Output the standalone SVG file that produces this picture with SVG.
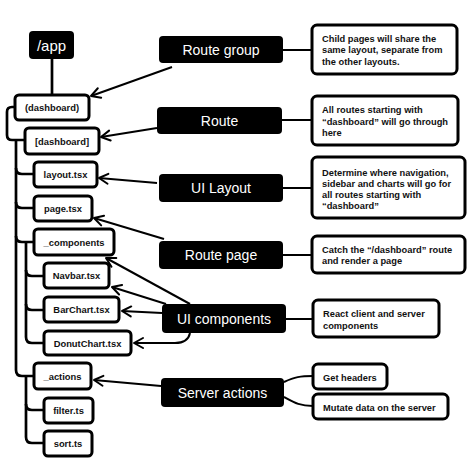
<svg xmlns="http://www.w3.org/2000/svg" width="474" height="476" viewBox="0 0 474 476">
<style>
.bg{fill:#fff}
.tnode rect{fill:#fff;stroke:#000;stroke-width:3}
.tnode text{font-family:"Liberation Sans",Arial,sans-serif;font-weight:bold;font-size:9.4px;fill:#111;text-anchor:middle}
.lbl rect{fill:#000}
.lbl text{font-family:"Liberation Sans",Arial,sans-serif;font-size:14px;fill:#fff;text-anchor:middle}
.desc rect{fill:#fff;stroke:#000;stroke-width:3}
.desc text{font-family:"Liberation Sans",Arial,sans-serif;font-weight:bold;font-size:9.3px;fill:#111}
.tree path{fill:none;stroke:#000;stroke-width:2.7}
.link{fill:none;stroke:#000;stroke-width:2}
.arr{fill:none;stroke:#000;stroke-width:2;marker-end:url(#chev)}
</style>
<defs>
<marker id="chev" viewBox="-2 -2 14 14" refX="9" refY="5" markerWidth="14" markerHeight="14" markerUnits="userSpaceOnUse" orient="auto">
<path d="M0,0 L9,5 L0,10" fill="none" stroke="#000" stroke-width="2" stroke-linecap="round" stroke-linejoin="round"/>
</marker>
</defs>
<rect class="bg" x="0" y="0" width="474" height="476"/>

<g id="connectors">
<g class="tree">
<path d="M52,59 V95"/>
<path d="M15,107 H12 Q7,107 7,112 V135 Q7,140 12,140 H25"/>
<path d="M16,140 V370 Q16,376 22,376 H34"/>
<path d="M16,168 Q16,174 22,174 H34"/>
<path d="M16,202 Q16,208 22,208 H34"/>
<path d="M16,236 Q16,242 22,242 H34"/>
<path d="M26,242 V337 Q26,343 32,343 H44"/>
<path d="M26,270 Q26,276 32,276 H44"/>
<path d="M26,304 Q26,310 32,310 H44"/>
<path d="M26,376 V437 Q26,443 32,443 H44"/>
<path d="M26,404 Q26,410 32,410 H44"/>
</g>
<path class="link" d="M283,50 H312"/>
<path class="link" d="M282,120 H312"/>
<path class="link" d="M283,188 H312"/>
<path class="link" d="M283,255 H312"/>
<path class="link" d="M286,319 H313"/>
<path class="link" d="M284,382 C295,377 300,376 313,376"/>
<path class="link" d="M284,397 C295,403 300,406 313,406"/>
<path class="arr" d="M172,67 L91,96"/>
<path class="arr" d="M157,128 L101,137"/>
<path class="arr" d="M157,183 L99,178"/>
<path class="arr" d="M164,239 L94,218"/>
<path class="arr" d="M190,304 L106,258"/>
<path class="arr" d="M166,304 L112,287"/>
<path class="arr" d="M162,313 L122,311"/>
<path class="arr" d="M190,333 Q188,343 175,343 L134,343"/>
<path class="arr" d="M161,386 L94,380"/>
</g>

<g id="app" class="lbl"><rect x="29" y="31" width="45" height="28" rx="4"/><text x="51.5" y="50.5" style="font-size:15px">/app</text></g>
<g id="n-dashgroup" class="tnode"><rect x="15" y="95" width="74" height="25" rx="4"/><text x="52" y="111">(dashboard)</text></g>
<g id="n-dashroute" class="tnode"><rect x="25" y="128" width="74" height="26" rx="4"/><text x="62" y="144.5">[dashboard]</text></g>
<g id="n-layout" class="tnode"><rect x="34" y="162" width="63" height="25" rx="4"/><text x="65.5" y="178">layout.tsx</text></g>
<g id="n-page" class="tnode"><rect x="34" y="196" width="58" height="25" rx="4"/><text x="63" y="212">page.tsx</text></g>
<g id="n-components" class="tnode"><rect x="34" y="229" width="80" height="26" rx="4"/><text x="74" y="245.5">_components</text></g>
<g id="n-navbar" class="tnode"><rect x="44" y="263" width="65" height="25" rx="4"/><text x="76.5" y="279">Navbar.tsx</text></g>
<g id="n-barchart" class="tnode"><rect x="44" y="297" width="75" height="25" rx="4"/><text x="81.5" y="313">BarChart.tsx</text></g>
<g id="n-donut" class="tnode"><rect x="44" y="331" width="87" height="24" rx="4"/><text x="87.5" y="346.5">DonutChart.tsx</text></g>
<g id="n-actions" class="tnode"><rect x="34" y="363" width="57" height="26" rx="4"/><text x="62.5" y="379.5">_actions</text></g>
<g id="n-filter" class="tnode"><rect x="44" y="398" width="49" height="25" rx="4"/><text x="68.5" y="414">filter.ts</text></g>
<g id="n-sort" class="tnode"><rect x="44" y="431" width="48" height="25" rx="4"/><text x="68" y="447">sort.ts</text></g>

<g id="l-routegroup" class="lbl"><rect x="159" y="36" width="124" height="27" rx="4"/><text x="221" y="54.5">Route group</text></g>
<g id="l-route" class="lbl"><rect x="157" y="107" width="125" height="27" rx="4"/><text x="219.5" y="125.5">Route</text></g>
<g id="l-uilayout" class="lbl"><rect x="159" y="174" width="124" height="28" rx="4"/><text x="221" y="193">UI Layout</text></g>
<g id="l-routepage" class="lbl"><rect x="159" y="241" width="124" height="28" rx="4"/><text x="221" y="260">Route page</text></g>
<g id="l-uicomp" class="lbl"><rect x="162" y="304" width="124" height="29" rx="4"/><text x="224" y="323.5">UI components</text></g>
<g id="l-server" class="lbl"><rect x="161" y="378" width="123" height="29" rx="4"/><text x="222.5" y="397.5">Server actions</text></g>

<g id="d-routegroup" class="desc"><rect x="312" y="25" width="145" height="49" rx="5"/>
<text x="322" y="42">Child pages will share the</text>
<text x="322" y="53.3">same layout, separate from</text>
<text x="322" y="64.5">the other layouts.</text></g>
<g id="d-route" class="desc"><rect x="312" y="96" width="146" height="49" rx="5"/>
<text x="322" y="113">All routes starting with</text>
<text x="322" y="124.5">“dashboard” will go through</text>
<text x="322" y="136">here</text></g>
<g id="d-uilayout" class="desc"><rect x="312" y="157" width="153" height="61" rx="5"/>
<text x="322" y="176">Determine where navigation,</text>
<text x="322" y="187">sidebar and charts will go for</text>
<text x="322" y="198">all routes starting with</text>
<text x="322" y="209">“dashboard”</text></g>
<g id="d-routepage" class="desc"><rect x="312" y="236" width="153" height="37" rx="5"/>
<text x="322" y="252.5">Catch the “/dashboard” route</text>
<text x="322" y="264">and render a page</text></g>
<g id="d-uicomp" class="desc"><rect x="313" y="300" width="126" height="37" rx="5"/>
<text x="323" y="317">React client and server</text>
<text x="323" y="328.5">components</text></g>
<g id="d-headers" class="desc"><rect x="313" y="364" width="74" height="25" rx="5"/>
<text x="323" y="380.5">Get headers</text></g>
<g id="d-mutate" class="desc"><rect x="313" y="394" width="135" height="25" rx="5"/>
<text x="323" y="410.5">Mutate data on the server</text></g>
</svg>
